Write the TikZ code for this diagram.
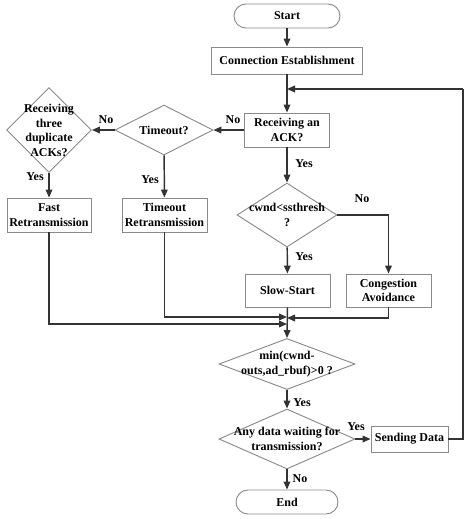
\documentclass[tikz,border=0pt]{standalone}
\usepackage{fontspec}
\setmainfont{Liberation Serif}
\usetikzlibrary{shapes.geometric,arrows.meta}
\definecolor{boxc}{HTML}{8A8A8A}
\definecolor{linec}{HTML}{333333}
\begin{document}
\begin{tikzpicture}[x=0.75pt,y=-0.75pt,
  every node/.style={font=\fontsize{9}{11}\selectfont\bfseries, text=black},
  box/.style={draw=boxc, line width=0.7pt, rectangle, inner sep=0pt, align=center},
  term/.style={box, rounded corners=9pt},
  dia/.style={draw=boxc, line width=0.7pt, diamond, inner sep=0pt},
  txt/.style={align=center, inner sep=0pt},
  lbl/.style={inner sep=0pt},
  conn/.style={draw=linec, line width=1.1pt, -{Triangle[length=6pt,width=5pt]}},
  plain/.style={draw=linec, line width=1.1pt}]
\useasboundingbox (0,0) rectangle (474,519);

% nodes
\node[term, minimum width=106*0.75pt, minimum height=24*0.75pt] (start) at (287,16) {Start};
\node[box, minimum width=151*0.75pt, minimum height=27*0.75pt] (ce) at (287,60.5) {Connection Establishment};
\node[box, minimum width=85*0.75pt, minimum height=34*0.75pt] (ack) at (287,130) {Receiving an\\ACK?};
\node[dia, minimum width=98*0.75pt, minimum height=50*0.75pt] (tmo) at (164,130) {};
\node[txt] (tmot) at (tmo) {Timeout?};
\node[dia, minimum width=85*0.75pt, minimum height=85*0.75pt] (dup) at (49,130) {};
\node[txt] (dupt) at (49,130.5) {Receiving\\three\\duplicate\\ACKs?};
\node[box, minimum width=84*0.75pt, minimum height=34*0.75pt] (fast) at (49,215) {Fast\\Retransmission};
\node[box, minimum width=85*0.75pt, minimum height=34*0.75pt] (tr) at (164.5,215) {Timeout\\Retransmission};
\node[dia, minimum width=100*0.75pt, minimum height=64*0.75pt] (cw) at (287,215) {};
\node[txt] (cwt) at (287,215) {cwnd<ssthresh\\?};
\node[box, minimum width=85*0.75pt, minimum height=33*0.75pt] (ss) at (287.5,290.5) {Slow-Start};
\node[box, minimum width=85*0.75pt, minimum height=33*0.75pt] (ca) at (388.5,290.5) {Congestion\\Avoidance};
\node[dia, minimum width=136*0.75pt, minimum height=51*0.75pt] (mn) at (287,364) {};
\node[txt] (mnt) at (287,364) {min(cwnd-\\outs,ad\_rbuf)>0 ?};
\node[dia, minimum width=136*0.75pt, minimum height=60*0.75pt] (any) at (287,439) {};
\node[txt] (anyt) at (287,439) {Any data waiting for\\transmission?};
\node[box, minimum width=77*0.75pt, minimum height=26*0.75pt] (send) at (409.5,439) {Sending Data};
\node[term, minimum width=102*0.75pt, minimum height=24*0.75pt] (end) at (287,502) {End};

% helper coordinates
\coordinate (fb) at (287,89);
\coordinate (fbr) at (463,89);
\coordinate (mj) at (287,320);

% connectors
\draw[conn] (start) -- (ce);
\draw[conn] (ce) -- (ack);
\draw[plain] (send.east) -| (fbr);
\draw[conn] (fbr) -- (fb);
\draw[conn] (ack) -- (tmo);
\draw[conn] (tmo.west) -- (dup.east);
\draw[conn] (dup) -- (fast);
\draw[conn] (tmo) -- (tr);
\draw[conn] (ack) -- (cw);
\draw[conn] (cw) -- (ss);
\draw[conn] (cw.east) -| (ca.north);
\draw[conn] (ss.south) -- (mn.north);
\draw[conn] (tr.south) |- (287,317);
\draw[conn] (fast.south) |- (287,324);
\draw[conn] (ca.south) |- (287,318);
\draw[conn] (mn) -- (any);
\draw[conn] (any.east) -- (send.west);
\draw[conn] (any) -- (end);

% labels
\node[lbl] (l1) at (233,120) {No};
\node[lbl] (l2) at (106,120) {No};
\node[lbl] (l3) at (304,164) {Yes};
\node[lbl] (l4) at (35,177) {Yes};
\node[lbl] (l5) at (150,180) {Yes};
\node[lbl] (l6) at (362,199) {No};
\node[lbl] (l7) at (304,257) {Yes};
\node[lbl] (l8) at (302,403) {Yes};
\node[lbl] (l9) at (356,427) {Yes};
\node[lbl] (l10) at (300,479) {No};
\end{tikzpicture}
\end{document}
